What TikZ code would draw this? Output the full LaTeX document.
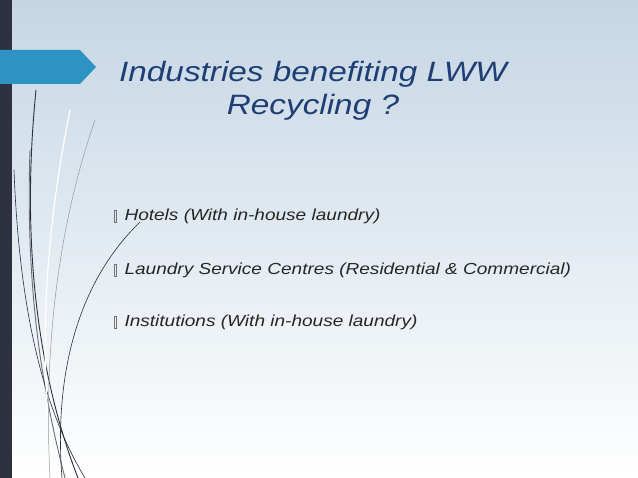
\documentclass[tikz,border=0pt]{standalone}
\usepackage{fontspec}
\setmainfont{Liberation Sans}[FakeStretch=1.19]
\begin{document}
\begin{tikzpicture}[x=1pt,y=-1pt,
  title/.style={font=\itshape\fontsize{28}{33}\selectfont,text=titleblue,align=center},
  item/.style={font=\itshape\fontsize{16}{19}\selectfont,text=black!85,anchor=west},
  bul/.style={draw=black!55,line width=0.4pt,minimum width=2.5pt,minimum height=12pt,inner sep=0pt},
  swoosh/.style={draw=swirl,line width=0.9pt}]
\definecolor{titleblue}{HTML}{1F3E74}
\definecolor{bgtop}{HTML}{C5D6E4}
\definecolor{barcol}{HTML}{2E3140}
\definecolor{arrowblue}{HTML}{2C93C2}
\definecolor{swirl}{HTML}{2A2E3A}
\useasboundingbox (0,0) rectangle (638,478);
\shade[top color=bgtop,bottom color=white] (0,0) rectangle (638,478);
\fill[barcol] (0,0) rectangle (12,478);
\fill[arrowblue] (0,50) -- (80,50) -- (96,67) -- (80,84) -- (0,84) -- cycle;
% swooshes
\draw[swoosh] (36,90) .. controls (20,250) and (40,380) .. (78,478);
\draw[swoosh,draw=swirl!70] (30,150) .. controls (25,300) and (45,400) .. (65,478);
\draw[swoosh,line width=0.6pt] (14,170) .. controls (20,330) and (50,420) .. (85,478);
\draw[swoosh,draw=white,line width=1.2pt] (70,110) .. controls (40,260) and (40,380) .. (55,478);
\draw[swoosh,line width=0.6pt] (140,222) .. controls (70,290) and (55,390) .. (62,478);
\draw[swoosh,draw=swirl!50,line width=0.5pt] (95,120) .. controls (50,250) and (45,380) .. (50,478);
\node[title] (t) at (313,91) {Industries benefiting LWW\\Recycling ?};
\node[bul] (b1) at (115,216) {};
\node[item] (i1) at (121,216) {Hotels (With in-house laundry)};
\node[bul] (b2) at (115,270) {};
\node[item] (i2) at (121,270) {Laundry Service Centres (Residential \& Commercial)};
\node[bul] (b3) at (115,322) {};
\node[item] (i3) at (121,322) {Institutions (With in-house laundry)};
\end{tikzpicture}
\end{document}
